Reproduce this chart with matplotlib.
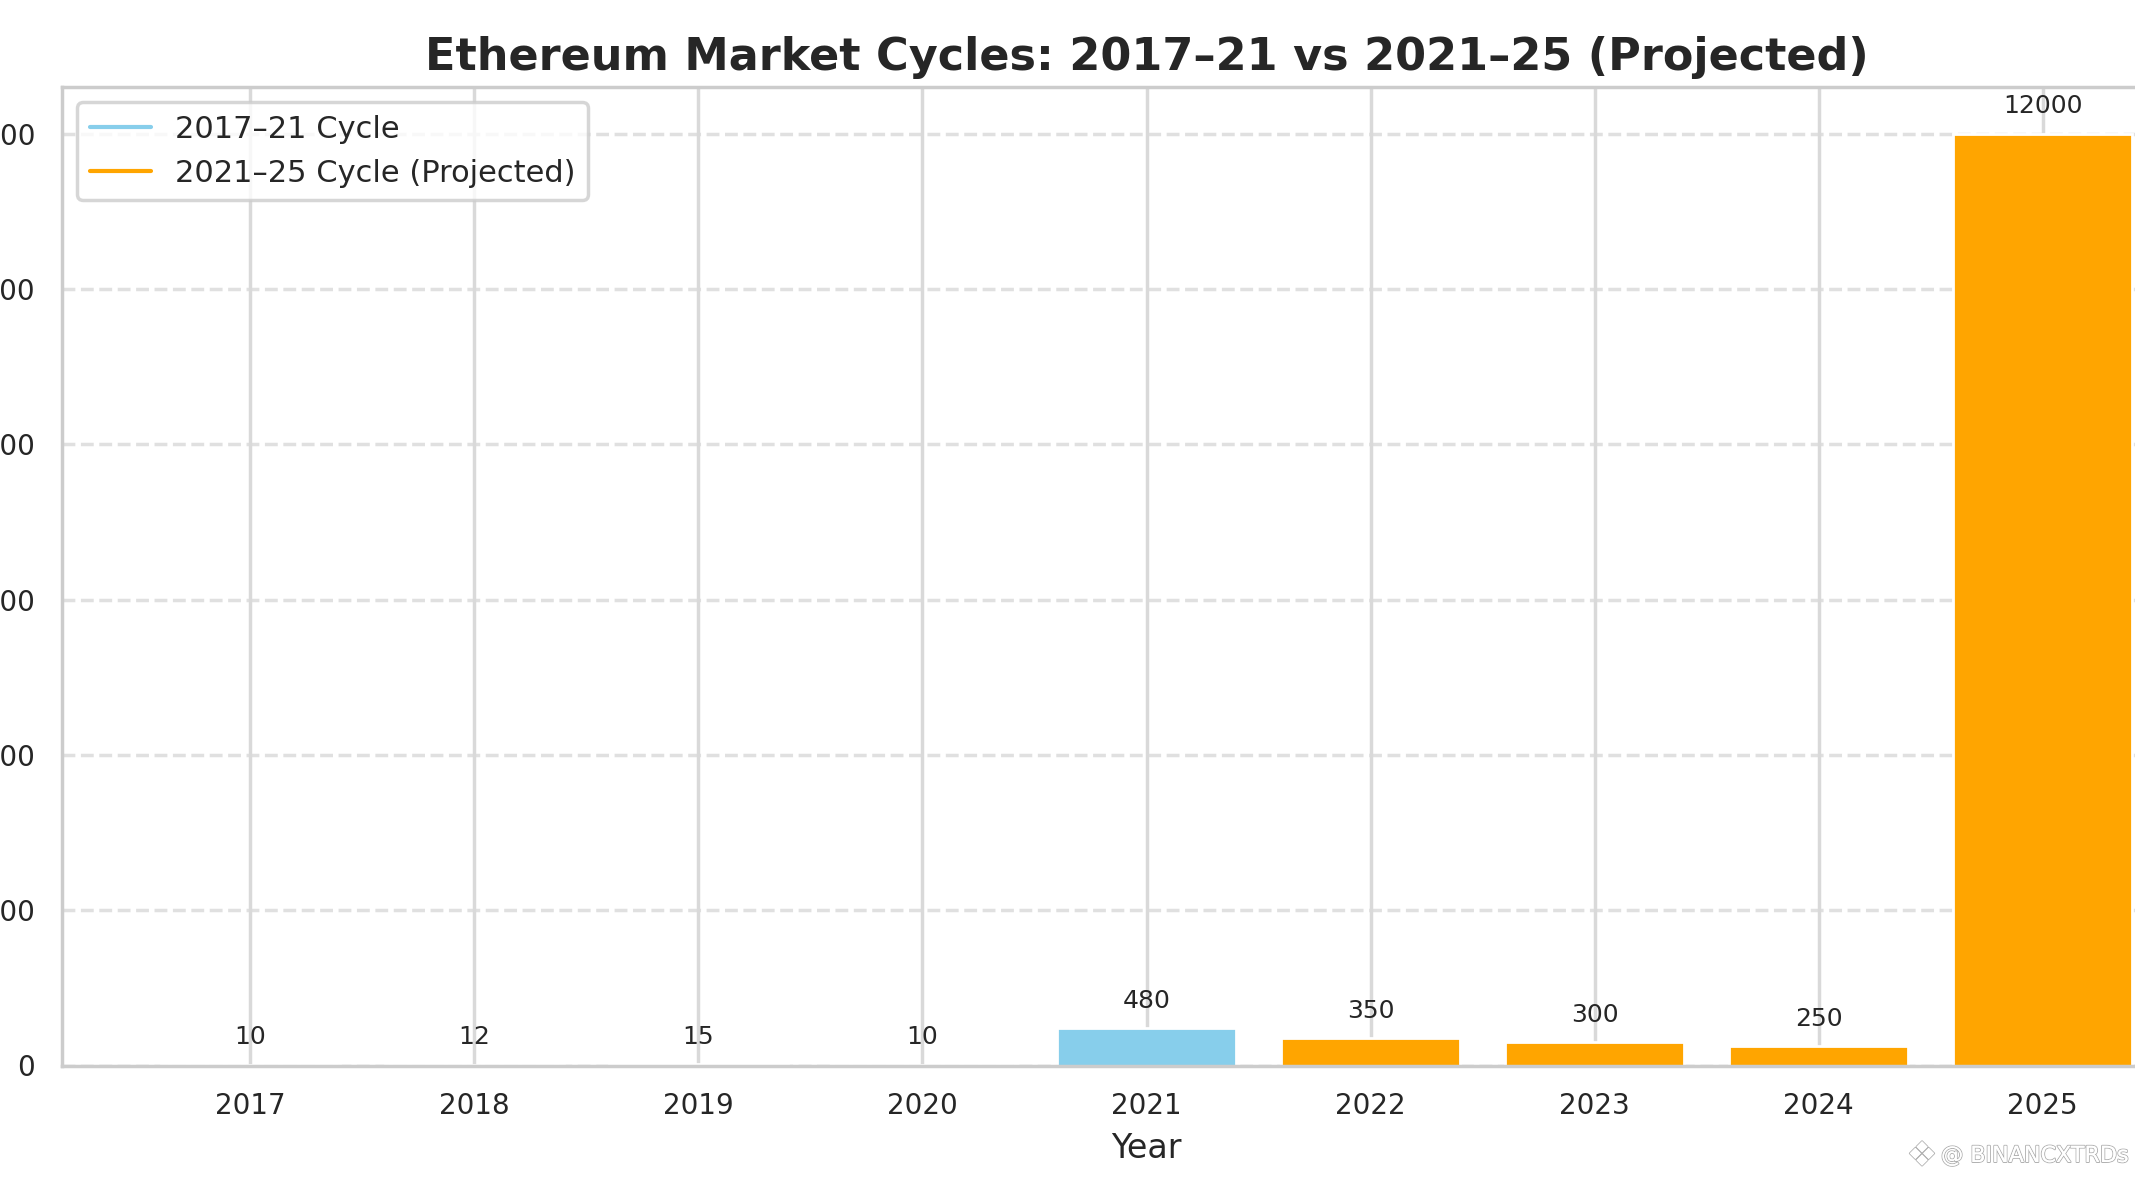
import matplotlib
matplotlib.use('Agg')
import matplotlib.pyplot as plt
import matplotlib.patheffects as pe
from matplotlib.lines import Line2D
import seaborn as sns

sns.set_style('whitegrid')

years = ['2017', '2018', '2019', '2020', '2021', '2022', '2023', '2024', '2025']
prices = [10, 12, 15, 10, 480, 350, 300, 250, 12000]
colors = ['skyblue'] * 5 + ['orange'] * 4
y_ticks = [0, 2000, 4000, 6000, 8000, 10000, 12000]

W, H = 2135, 1181
fig = plt.figure(figsize=(W / 200, H / 200), dpi=200)
# the source picture is cropped, so the axes run past the right edge
ax = fig.add_axes([62 / W, 1 - 1065.5 / H, (2231 - 62) / W, (1065.5 - 87) / H])

bars = ax.bar(years, prices, color=colors, edgecolor='white', linewidth=1.0, zorder=2)
for i in range(len(years)):
    ax.text(i, prices[i] + 200, str(prices[i]), ha='center', va='bottom',
            fontsize=9, color='.15', zorder=3)

ax.set_yticks(y_ticks)
ax.set_ylim(0, 12600)
ax.set_xlim(-0.84, 8.84)
ax.tick_params(labelsize=10, colors='.15', pad=6.2)
ax.grid(axis='y', linestyle='--', linewidth=1.25, color='.85', alpha=0.8, zorder=0)
ax.grid(axis='x', linestyle='-', linewidth=1.25, color='.85', zorder=0)
ax.set_axisbelow(True)
for s in ax.spines.values():
    s.set_linewidth(1.25)
ax.set_xlabel('Year', fontsize=12, color='.15', labelpad=4)
ax.set_title('Ethereum Market Cycles: 2017–21 vs 2021–25 (Projected)',
             fontsize=16, fontweight='bold', color='.15')

handles = [Line2D([0], [0], color='skyblue', lw=1.5),
           Line2D([0], [0], color='orange', lw=1.5)]
ax.legend(handles, ['2017–21 Cycle', '2021–25 Cycle (Projected)'],
          loc='upper left', fontsize=11, frameon=True)
ax.get_legend().get_frame().set_linewidth(1.25)

# watermark
outline = [pe.withStroke(linewidth=0.7, foreground='#b0b0b0'), pe.Normal()]
fig.text(1941 / W, 1 - 1156 / H, '@ BINANCXTRDs', color='white', fontsize=8,
         va='center', ha='left', path_effects=outline)
fig.text(1922 / W, 1 - 1156 / H, '❖', color='white', fontsize=12,
         va='center', ha='center', path_effects=outline)

fig.savefig('out.png', dpi=200)
